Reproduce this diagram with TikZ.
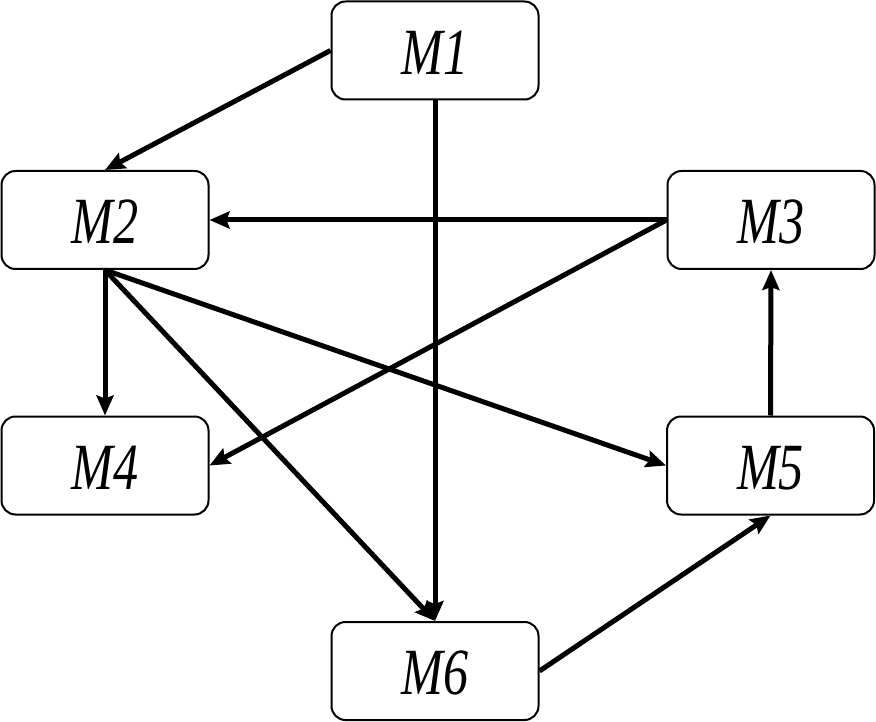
\documentclass[tikz,border=0pt]{standalone}
\usepackage{fontspec}
\setmainfont{Liberation Serif}
\usepackage{graphicx}
\usetikzlibrary{arrows.meta}
\newcommand{\mlab}[1]{\raisebox{-4pt}{\scalebox{0.76}[1]{\itshape #1}}}
\begin{document}
\begin{tikzpicture}[x=1pt,y=-1pt,
  mbox/.style={draw,line width=2pt,rounded corners=14pt,minimum width=207pt,minimum height=98pt,inner sep=0pt,
    font=\rmfamily\itshape\fontsize{66}{66}\selectfont, text depth=0pt},
  link/.style={line width=5pt,-{Stealth[length=20pt,width=17pt,inset=3pt]}}]
\useasboundingbox (0,0) rectangle (876,722);
\node[mbox] (M1) at (435,50.5) {\mlab{M1}};
\node[mbox] (M2) at (105,220) {\mlab{M2}};
\node[mbox] (M3) at (771,220) {\mlab{M3}};
\node[mbox] (M4) at (105,465.5) {\mlab{M4}};
\node[mbox] (M5) at (770.5,465.5) {\mlab{M5}};
\node[mbox] (M6) at (435,671) {\mlab{M6}};
\draw[link] (M1.west) -- (M2.north);
\draw[link] (M1.south) -- (M6.north);
\draw[link] (M3.west) -- (M2.east);
\draw[link] (M3.west) -- (M4.east);
\draw[link] (M2.south) -- (M4.north);
\draw[link] (M2.south) -- (M5.west);
\draw[link] (M2.south) -- (M6.north);
\draw[link] (M5.north) -- (M3.south);
\draw[link] (M6.east) -- (M5.south);
\end{tikzpicture}
\end{document}
